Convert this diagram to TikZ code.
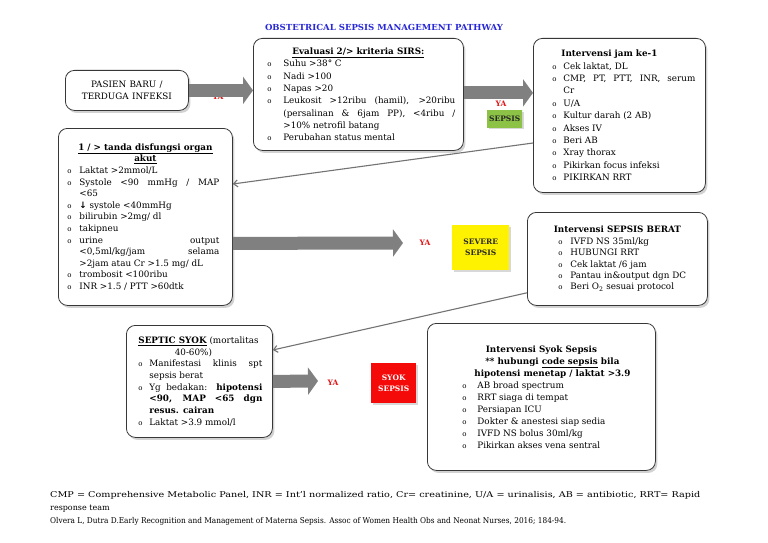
\documentclass[tikz,border=0pt]{standalone}
\usepackage{fontspec}
\setmainfont{DejaVu Serif}
\newfontfamily\symf{DejaVu Sans}
\usepackage{graphicx}
\usetikzlibrary{arrows.meta,shadows,calc}

\definecolor{titleblue}{RGB}{40,40,215}
\definecolor{yared}{RGB}{225,20,20}
\definecolor{arrowgray}{RGB}{128,128,128}
\definecolor{linegray}{RGB}{115,115,115}
\definecolor{boxline}{RGB}{55,55,55}
\definecolor{sepsisgreenA}{RGB}{200,235,150}
\definecolor{sepsisgreenB}{RGB}{140,195,70}
\definecolor{syokred}{RGB}{245,10,10}

\newlength\bulw
\newcommand\smallo{{\fontsize{7pt}{7pt}\selectfont o}}
\newcommand\li[1]{\par\hangindent=\bulw\hangafter=1\noindent\hbox to\bulw{\smallo\hss}#1}
\newcommand\bsetup[4]{\fontsize{8.8pt}{#4}\selectfont\leftskip=#1\relax\rightskip=#2\relax\parfillskip=0pt plus 1fil\relax\setlength\bulw{#3}\parindent=0pt\hyphenpenalty=10000\tolerance=9999\emergencystretch=6pt\relax}
% #1 width, #2 leftskip, #3 rightskip, #4 bullet width, #5 baselineskip, #6 content
\newcommand\boxtext[6]{\begin{minipage}{#1}\bsetup{#2}{#3}{#4}{#5}#6\par\end{minipage}}

\begin{document}
\begin{tikzpicture}[x=1pt,y=-1pt,
  box/.style={draw=boxline, line width=0.8pt, rounded corners=9pt, fill=white,
    drop shadow={shadow xshift=2pt,shadow yshift=-2.5pt,opacity=0.35},
    inner xsep=0pt, inner ysep=0pt, anchor=north west},
  blockarrow/.style={draw=arrowgray, line width=13pt, -{Triangle[length=10pt,width=27pt]}},
  thinarrow/.style={draw=linegray, line width=1.1pt, -{Straight Barb[length=4pt,width=7pt]}},
  ya/.style={text=yared, inner sep=0pt, font=\fontsize{7.5pt}{8pt}\selectfont\bfseries},
  tag/.style={inner sep=0pt, anchor=north west, align=center,
    font=\fontsize{7.5pt}{11pt}\selectfont\bfseries,
    drop shadow={shadow xshift=1.5pt,shadow yshift=-2pt,opacity=0.3}},
  foot/.style={anchor=base west, inner sep=0pt, font=\fontsize{8pt}{10pt}\selectfont}
]
\fill[white] (0,0) rectangle (768,543);
\useasboundingbox (0,0) rectangle (768,543);

% title
\node[text=titleblue, inner sep=0pt] (title) at (384,27)
  {\resizebox{238pt}{\height}{\fontsize{8.3pt}{10pt}\selectfont\bfseries OBSTETRICAL SEPSIS MANAGEMENT PATHWAY}};

% boxes
\node[box, text width=123pt, minimum height=40pt, align=center] (pasien) at (65,70)
  {\fontsize{8.8pt}{13pt}\selectfont PASIEN BARU /\\TERDUGA INFEKSI};

\node[box, minimum width=210pt, minimum height=112pt] (sirs) at (253,38) {\boxtext{210pt}{14pt}{8pt}{16pt}{12.3pt}{%
{\centering\bfseries\underline{Evaluasi 2/> kriteria SIRS:}\par}
\li{Suhu >38° C}
\li{Nadi >100}
\li{Napas >20}
\li{Leukosit >12ribu (hamil), >20ribu\linebreak (persalinan \& 6jam PP), <4ribu /\linebreak >10\% netrofil batang}
\li{Perubahan status mental}}};

\node[box, minimum width=172pt, minimum height=154pt] (interv1) at (533,38) {\boxtext{172pt}{19pt}{10pt}{11pt}{12.4pt}{%
{\centering\bfseries\hspace*{-20pt}Intervensi jam ke-1\par}
\li{Cek laktat, DL}
\li{CMP, PT, PTT, INR, serum\linebreak Cr}
\li{U/A}
\li{Kultur darah (2 AB)}
\li{Akses IV}
\li{Beri AB}
\li{Xray thorax}
\li{Pikirkan focus infeksi}
\li{PIKIRKAN RRT}}};

\node[box, minimum width=174pt, minimum height=177pt] (disf) at (58,128) {\boxtext{174pt}{9pt}{13pt}{12pt}{11.6pt}{%
{\centering\bfseries\underline{1 / > tanda disfungsi organ}\\\underline{akut}\par}
\li{Laktat >2mmol/L}
\li{Systole <90 mmHg / MAP\linebreak <65}
\li{{\symf\bfseries ↓} systole <40mmHg}
\li{bilirubin >2mg/ dl}
\li{takipneu}
\li{urine output\linebreak <0,5ml/kg/jam selama\linebreak >2jam atau Cr >1.5 mg/ dL}
\li{trombosit <100ribu}
\li{INR >1.5 / PTT >60dtk}}};

\node[box, minimum width=180pt, minimum height=93pt] (berat) at (527,212) {\boxtext{180pt}{31pt}{8pt}{12pt}{11.4pt}{%
{\centering\bfseries Intervensi SEPSIS BERAT\par}
\li{IVFD NS 35ml/kg}
\li{HUBUNGI RRT}
\li{Cek laktat /6 jam}
\li{Pantau in\&output dgn DC}
\li{Beri O\textsubscript{2} sesuai protocol}}};

\node[box, minimum width=146pt, minimum height=112pt] (septic) at (126,325) {\boxtext{146pt}{12pt}{10pt}{11pt}{11.7pt}{%
\noindent\textbf{\underline{SEPTIC SYOK}} (mortalitas\par
{\centering\hspace*{-12pt}40-60\%)\par}
\li{Manifestasi klinis spt\linebreak sepsis berat}
\li{Yg bedakan: \textbf{hipotensi\linebreak <90, MAP <65 dgn\linebreak resus. cairan}}
\li{Laktat >3.9 mmol/l}}};

\node[box, minimum width=228pt, minimum height=147pt] (syok) at (427,323) {\boxtext{228pt}{35pt}{10pt}{15pt}{12pt}{%
{\centering\bfseries Intervensi Syok Sepsis\\\hspace*{22pt}** hubungi \underline{code sepsis} bila\\\hspace*{22pt}hipotensi menetap / laktat >3.9\par}
\li{AB broad spectrum}
\li{RRT siaga di tempat}
\li{Persiapan ICU}
\li{Dokter \& anestesi siap sedia}
\li{IVFD NS bolus 30ml/kg}
\li{Pikirkan akses vena sentral}}};

% coloured tags
\node[tag, top color=sepsisgreenB, middle color=sepsisgreenA, bottom color=sepsisgreenB,
  minimum width=35pt, minimum height=17pt, text=black!85] (sepsistag) at (487,110) {SEPSIS};
\node[tag, fill=yellow, minimum width=57pt, minimum height=45pt, text=black!85] (severetag) at (452,225) {SEVERE\\SEPSIS};
\node[tag, fill=syokred, minimum width=45pt, minimum height=40pt, text=white] (syoktag) at (371,363) {SYOK\\SEPSIS};

% YA labels
\node[ya] (ya1) at (218,97) {YA};
\node[ya] (ya2) at (501,104) {YA};
\node[ya] (ya3) at (425,243) {YA};
\node[ya] (ya4) at (333,383) {YA};

% block arrows
\coordinate (a3end) at (403,243);
\coordinate (a4end) at (318,381);
\draw[blockarrow] (pasien.east) -- (pasien.east -| sirs.west);
\draw[blockarrow] ($(sirs.east)+(0,-1.5)$) -- ($(sirs.east -| interv1.west)+(0,-1.5)$);
\draw[blockarrow] ($(disf.east)+(0,26.5)$) -- (a3end);
\draw[blockarrow] (septic.east) -- (a4end);

% thin arrows
\draw[thinarrow] ([yshift=-105pt]interv1.north west) -- ([yshift=-56pt]disf.north east);
\draw[thinarrow] ([yshift=13pt]berat.south west) -- ([yshift=-25pt]septic.north east);

% footer
\node[foot] (foot1) at (50,497) {\resizebox{650pt}{\height}{CMP = Comprehensive Metabolic Panel, INR = Int'l normalized ratio, Cr= creatinine, U/A = urinalisis, AB = antibiotic, RRT= Rapid}};
\node[foot] (foot2) at (50,510) {response team};
\node[foot] (foot3) at (50,523) {\resizebox{516pt}{\height}{Olvera L, Dutra D.Early Recognition and Management of Materna Sepsis. Assoc of Women Health Obs and Neonat Nurses, 2016; 184-94.}};
\end{tikzpicture}
\end{document}
